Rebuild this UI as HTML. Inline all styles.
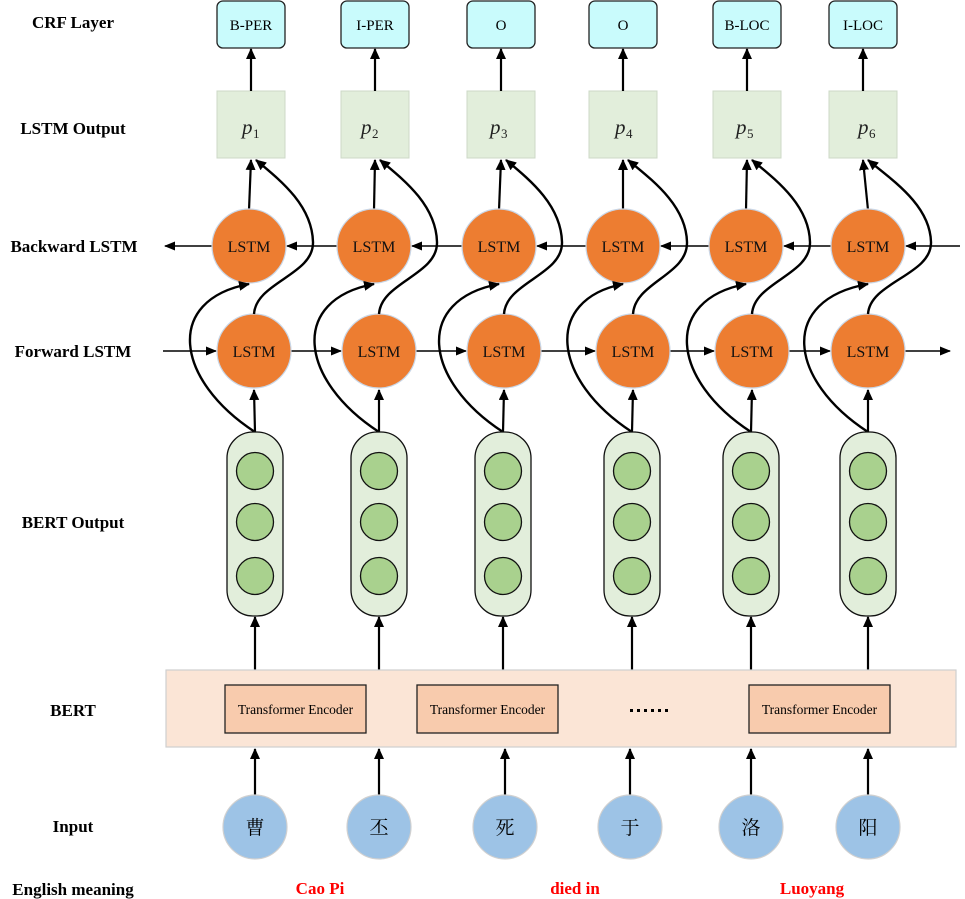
<!DOCTYPE html>
<html><head><meta charset="utf-8"><style>
html,body{margin:0;padding:0;background:#fff;width:965px;height:899px;overflow:hidden}
svg{display:block}
.lab{font-family:"Liberation Serif",serif;font-weight:bold;font-size:17px;fill:#000}
.red{font-family:"Liberation Serif",serif;font-weight:bold;font-size:17px;fill:#ff0000}
.t{font-family:"Liberation Serif",serif;font-size:15px;fill:#000}
.ls{font-family:"Liberation Serif",serif;font-size:16px;fill:#111}
.p{font-family:"Liberation Serif",serif;font-style:italic;font-size:21px;fill:#222}
.sub{font-family:"Liberation Serif",serif;font-size:13px;fill:#222}
.te{font-family:"Liberation Serif",serif;font-size:13.5px;fill:#000}
.cj{font-family:"Liberation Serif","Noto Serif CJK SC",serif;font-size:19px;fill:#000}
.a{stroke:#000;stroke-width:2.2;fill:none;marker-end:url(#ah)}
.h{stroke:#000;stroke-width:1.4;fill:none;marker-end:url(#ah2)}
.c{stroke:#000;stroke-width:2.4;fill:none;marker-end:url(#ah)}
</style></head><body>
<svg width="965" height="899" viewBox="0 0 965 899" xmlns="http://www.w3.org/2000/svg">
<defs>
<marker id="ah" markerUnits="userSpaceOnUse" markerWidth="12" markerHeight="12" refX="10" refY="5" orient="auto"><path d="M0,0 L11,5 L0,10 Z" fill="#000"/></marker>
<marker id="ah2" markerUnits="userSpaceOnUse" markerWidth="12" markerHeight="12" refX="10" refY="4.5" orient="auto"><path d="M0,0 L11,4.5 L0,9 Z" fill="#000"/></marker>
</defs>

<text class="lab" x="73" y="28" text-anchor="middle">CRF Layer</text>
<text class="lab" x="73" y="134" text-anchor="middle">LSTM Output</text>
<text class="lab" x="74" y="252" text-anchor="middle">Backward LSTM</text>
<text class="lab" x="73" y="357" text-anchor="middle">Forward LSTM</text>
<text class="lab" x="73" y="528" text-anchor="middle">BERT Output</text>
<text class="lab" x="73" y="716" text-anchor="middle">BERT</text>
<text class="lab" x="73" y="832" text-anchor="middle">Input</text>
<text class="lab" x="73" y="895" text-anchor="middle">English meaning</text>

<text class="red" x="320" y="894" text-anchor="middle">Cao Pi</text>
<text class="red" x="575" y="894" text-anchor="middle">died in</text>
<text class="red" x="812" y="894" text-anchor="middle">Luoyang</text>

<g stroke="#222" stroke-width="1.3" fill="#c9fbfc">
<rect x="217" y="1" width="68" height="47" rx="6"/>
<rect x="341" y="1" width="68" height="47" rx="6"/>
<rect x="467" y="1" width="68" height="47" rx="6"/>
<rect x="589" y="1" width="68" height="47" rx="6"/>
<rect x="713" y="1" width="68" height="47" rx="6"/>
<rect x="829" y="1" width="68" height="47" rx="6"/>
</g>
<text class="t" x="251" y="30" text-anchor="middle">B-PER</text>
<text class="t" x="375" y="30" text-anchor="middle">I-PER</text>
<text class="t" x="501" y="30" text-anchor="middle">O</text>
<text class="t" x="623" y="30" text-anchor="middle">O</text>
<text class="t" x="747" y="30" text-anchor="middle">B-LOC</text>
<text class="t" x="863" y="30" text-anchor="middle">I-LOC</text>

<g fill="#e2eedb" stroke="#cdd8c7" stroke-width="1">
<rect x="217" y="91" width="68" height="67"/>
<rect x="341" y="91" width="68" height="67"/>
<rect x="467" y="91" width="68" height="67"/>
<rect x="589" y="91" width="68" height="67"/>
<rect x="713" y="91" width="68" height="67"/>
<rect x="829" y="91" width="68" height="67"/>
</g>
<g>
<text class="p" x="242" y="134">p</text><text class="sub" x="253" y="138">1</text>
<text class="p" x="361" y="134">p</text><text class="sub" x="372" y="138">2</text>
<text class="p" x="490" y="134">p</text><text class="sub" x="501" y="138">3</text>
<text class="p" x="615" y="134">p</text><text class="sub" x="626" y="138">4</text>
<text class="p" x="736" y="134">p</text><text class="sub" x="747" y="138">5</text>
<text class="p" x="858" y="134">p</text><text class="sub" x="869" y="138">6</text>
</g>

<line class="a" x1="251" y1="91" x2="251" y2="49"/>
<line class="a" x1="375" y1="91" x2="375" y2="49"/>
<line class="a" x1="501" y1="91" x2="501" y2="49"/>
<line class="a" x1="623" y1="91" x2="623" y2="49"/>
<line class="a" x1="747" y1="91" x2="747" y2="49"/>
<line class="a" x1="863" y1="91" x2="863" y2="49"/>

<line class="a" x1="249" y1="210" x2="251" y2="160"/>
<line class="a" x1="374" y1="210" x2="375" y2="160"/>
<line class="a" x1="499" y1="210" x2="501" y2="160"/>
<line class="a" x1="623" y1="210" x2="623" y2="160"/>
<line class="a" x1="746" y1="210" x2="747" y2="160"/>
<line class="a" x1="868" y1="210" x2="863" y2="160"/>

<line class="h" x1="960" y1="246" x2="906" y2="246"/>
<line class="h" x1="831" y1="246" x2="784" y2="246"/>
<line class="h" x1="709" y1="246" x2="661" y2="246"/>
<line class="h" x1="586" y1="246" x2="537" y2="246"/>
<line class="h" x1="462" y1="246" x2="412" y2="246"/>
<line class="h" x1="337" y1="246" x2="287" y2="246"/>
<line class="h" x1="212" y1="246" x2="165" y2="246"/>
<line class="h" x1="163" y1="351" x2="216" y2="351"/>
<line class="h" x1="291" y1="351" x2="341" y2="351"/>
<line class="h" x1="416" y1="351" x2="466" y2="351"/>
<line class="h" x1="541" y1="351" x2="595" y2="351"/>
<line class="h" x1="670" y1="351" x2="714" y2="351"/>
<line class="h" x1="789" y1="351" x2="830" y2="351"/>
<line class="h" x1="905" y1="351" x2="950" y2="351"/>

<g fill="#ed7d31" stroke="#c9d6e6" stroke-width="1.2">
<circle cx="249" cy="246" r="37"/><circle cx="374" cy="246" r="37"/><circle cx="499" cy="246" r="37"/>
<circle cx="623" cy="246" r="37"/><circle cx="746" cy="246" r="37"/><circle cx="868" cy="246" r="37"/>
<circle cx="254" cy="351" r="37"/><circle cx="379" cy="351" r="37"/><circle cx="504" cy="351" r="37"/>
<circle cx="633" cy="351" r="37"/><circle cx="752" cy="351" r="37"/><circle cx="868" cy="351" r="37"/>
</g>
<g class="ls" text-anchor="middle">
<text x="249" y="252">LSTM</text><text x="374" y="252">LSTM</text><text x="499" y="252">LSTM</text>
<text x="623" y="252">LSTM</text><text x="746" y="252">LSTM</text><text x="868" y="252">LSTM</text>
<text x="254" y="357">LSTM</text><text x="379" y="357">LSTM</text><text x="504" y="357">LSTM</text>
<text x="633" y="357">LSTM</text><text x="752" y="357">LSTM</text><text x="868" y="357">LSTM</text>
</g>

<line class="a" x1="255" y1="432" x2="254" y2="390"/>
<line class="a" x1="379" y1="432" x2="379" y2="390"/>
<line class="a" x1="503" y1="432" x2="504" y2="390"/>
<line class="a" x1="632" y1="432" x2="633" y2="390"/>
<line class="a" x1="751" y1="432" x2="752" y2="390"/>
<line class="a" x1="868" y1="432" x2="868" y2="390"/>

<path class="c" d="M255,432 C175,380 164,300 249,284"/>
<path class="c" d="M379,432 C299,380 289,300 374,284"/>
<path class="c" d="M503,432 C423,380 414,300 499,284"/>
<path class="c" d="M632,432 C552,380 543,300 623,284"/>
<path class="c" d="M751,432 C671,380 662,300 746,284"/>
<path class="c" d="M868,432 C788,380 778,300 868,284"/>
<path class="c" d="M254,314 C256,282 314,275 313,242 C312,205 280,180 256,160"/>
<path class="c" d="M379,314 C381,282 438,275 437,242 C436,205 404,180 380,160"/>
<path class="c" d="M504,314 C506,282 563,275 562,242 C561,205 530,180 506,160"/>
<path class="c" d="M633,314 C635,282 688,275 687,242 C686,205 652,180 628,160"/>
<path class="c" d="M752,314 C754,282 811,275 810,242 C809,205 776,180 752,160"/>
<path class="c" d="M868,314 C870,282 932,275 931,242 C930,205 892,180 868,160"/>

<g fill="#e2eedb" stroke="#111" stroke-width="1.3">
<rect x="227" y="432" width="56" height="184" rx="26"/>
<rect x="351" y="432" width="56" height="184" rx="26"/>
<rect x="475" y="432" width="56" height="184" rx="26"/>
<rect x="604" y="432" width="56" height="184" rx="26"/>
<rect x="723" y="432" width="56" height="184" rx="26"/>
<rect x="840" y="432" width="56" height="184" rx="26"/>
</g>
<g fill="#a9d18e" stroke="#111" stroke-width="1.3">
<circle cx="255" cy="471" r="18.5"/><circle cx="255" cy="522" r="18.5"/><circle cx="255" cy="576" r="18.5"/>
<circle cx="379" cy="471" r="18.5"/><circle cx="379" cy="522" r="18.5"/><circle cx="379" cy="576" r="18.5"/>
<circle cx="503" cy="471" r="18.5"/><circle cx="503" cy="522" r="18.5"/><circle cx="503" cy="576" r="18.5"/>
<circle cx="632" cy="471" r="18.5"/><circle cx="632" cy="522" r="18.5"/><circle cx="632" cy="576" r="18.5"/>
<circle cx="751" cy="471" r="18.5"/><circle cx="751" cy="522" r="18.5"/><circle cx="751" cy="576" r="18.5"/>
<circle cx="868" cy="471" r="18.5"/><circle cx="868" cy="522" r="18.5"/><circle cx="868" cy="576" r="18.5"/>
</g>

<line class="a" x1="255" y1="670" x2="255" y2="617"/>
<line class="a" x1="379" y1="670" x2="379" y2="617"/>
<line class="a" x1="503" y1="670" x2="503" y2="617"/>
<line class="a" x1="632" y1="670" x2="632" y2="617"/>
<line class="a" x1="751" y1="670" x2="751" y2="617"/>
<line class="a" x1="868" y1="670" x2="868" y2="617"/>

<rect x="166" y="670" width="790" height="77" fill="#fbe5d6" stroke="#cfcfcf" stroke-width="1.2"/>
<g fill="#f8cbad" stroke="#222" stroke-width="1.3">
<rect x="225" y="685" width="141" height="48"/>
<rect x="417" y="685" width="141" height="48"/>
<rect x="749" y="685" width="141" height="48"/>
</g>
<text class="te" x="295.5" y="714" text-anchor="middle">Transformer Encoder</text>
<text class="te" x="487.5" y="714" text-anchor="middle">Transformer Encoder</text>
<text class="te" x="819.5" y="714" text-anchor="middle">Transformer Encoder</text>
<g fill="#000"><rect x="630" y="709" width="3" height="3"/><rect x="637" y="709" width="3" height="3"/><rect x="644" y="709" width="3" height="3"/><rect x="651" y="709" width="3" height="3"/><rect x="658" y="709" width="3" height="3"/><rect x="665" y="709" width="3" height="3"/></g>

<line class="a" x1="255" y1="795" x2="255" y2="749"/>
<line class="a" x1="379" y1="795" x2="379" y2="749"/>
<line class="a" x1="505" y1="795" x2="505" y2="749"/>
<line class="a" x1="630" y1="795" x2="630" y2="749"/>
<line class="a" x1="751" y1="795" x2="751" y2="749"/>
<line class="a" x1="868" y1="795" x2="868" y2="749"/>

<g fill="#9dc3e6" stroke="#d0d0d0" stroke-width="1.2">
<circle cx="255" cy="827" r="32"/><circle cx="379" cy="827" r="32"/><circle cx="505" cy="827" r="32"/>
<circle cx="630" cy="827" r="32"/><circle cx="751" cy="827" r="32"/><circle cx="868" cy="827" r="32"/>
</g>
<g class="cj" text-anchor="middle">
<text x="255" y="834">曹</text><text x="379" y="834">丕</text><text x="505" y="834">死</text>
<text x="630" y="834">于</text><text x="751" y="834">洛</text><text x="868" y="834">阳</text>
</g>
</svg>
</body></html>
